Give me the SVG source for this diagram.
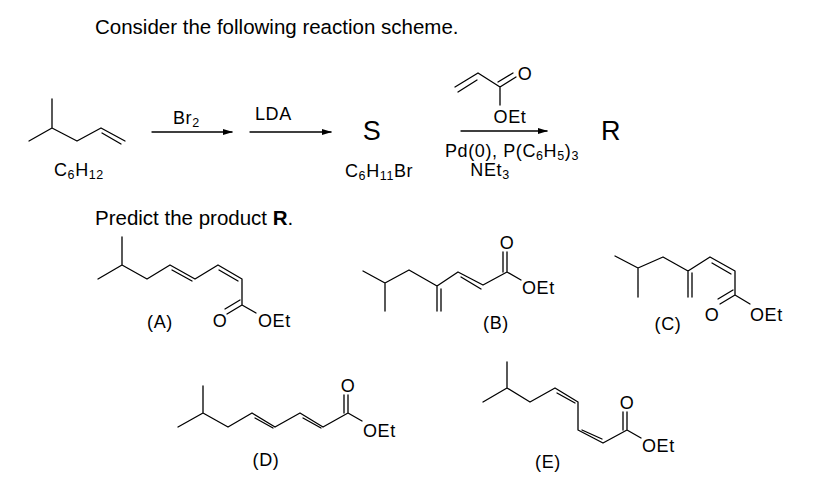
<svg xmlns="http://www.w3.org/2000/svg" width="838" height="480" viewBox="0 0 838 480">
<defs>
<marker id="ah" markerWidth="10" markerHeight="8" refX="9" refY="4" orient="auto" markerUnits="userSpaceOnUse"><path d="M0,1 L10,4 L0,7 Z" fill="#000"/></marker>
<style>
.b{fill:none;stroke:#000;stroke-width:1.3;stroke-linejoin:round;stroke-linecap:round}
text{font-family:"Liberation Sans",Arial,sans-serif;font-size:18px;letter-spacing:0.6px;fill:#000}
.s{font-size:12.5px}
.big{font-size:27px}
.t{font-size:20.5px;letter-spacing:0}
</style>
</defs>
<rect width="838" height="480" fill="#fff"/>
<text class="t" x="95" y="34">Consider the following reaction scheme.</text>
<text class="t" x="95" y="225">Predict the product <tspan font-weight="bold">R</tspan>.</text>

<g id="sm">
<path class="b" d="M52,99 L52,128 M29,141 L52,128 L77,141 L101,128 L125,141 M102,133 L121,144"/>
<text x="54" y="176">C<tspan class="s" dy="3">6</tspan><tspan dy="-3">H</tspan><tspan class="s" dy="3">12</tspan></text>
</g>
<g id="connectors">
<line class="b" x1="152" y1="132" x2="232" y2="132" marker-end="url(#ah)"/>
<line class="b" x1="250" y1="132" x2="331" y2="132" marker-end="url(#ah)"/>
<line class="b" x1="461" y1="131" x2="547" y2="131" marker-end="url(#ah)"/>
</g>
<text x="173" y="124">Br<tspan class="s" dy="3">2</tspan></text>
<text x="255" y="120">LDA</text>
<g id="S">
<text class="big" x="372" y="140" text-anchor="middle">S</text>
<text x="345" y="177">C<tspan class="s" dy="3">6</tspan><tspan dy="-3">H</tspan><tspan class="s" dy="3">11</tspan><tspan dy="-3">Br</tspan></text>
</g>
<g id="acrylate">
<path class="b" d="M455,87 L478,73 L500,87 L516,77 M458,92 L477,80 M498,82 L513,73 M500,87 L500,105"/>
<text x="525" y="80" text-anchor="middle">O</text>
<text x="510" y="123" text-anchor="middle">OEt</text>
</g>
<text x="445" y="157">Pd(0), P(C<tspan class="s" dy="3">6</tspan><tspan dy="-3">H</tspan><tspan class="s" dy="3">5</tspan><tspan dy="-3">)</tspan><tspan class="s" dy="3">3</tspan></text>
<text x="490" y="176" text-anchor="middle">NEt<tspan class="s" dy="3">3</tspan></text>
<text class="big" x="611" y="140" text-anchor="middle">R</text>

<g id="A">
<path class="b" d="M122,237 L122,265 M98,279 L122,265 L147,279 L170,265 L195,279 L218,265 L242,279 L242,305 L227,314 M172,270 L192,281 M219,270 L238,281 M240,300 L225,309 M242,305 L256,313"/>
<text x="220" y="327" text-anchor="middle">O</text>
<text x="258" y="327">OEt</text>
<text x="160" y="328" text-anchor="middle">(A)</text>
</g>
<g id="B">
<path class="b" d="M363,271 L385,283 L385,311 M385,283 L409,270 L437,286 L437,311 M441,289 L441,311 M437,286 L458,272 L483,285 L507,272 L507,252 M503,272 L503,252 M461,277 L481,289 M507,272 L521,280"/>
<text x="507" y="249" text-anchor="middle">O</text>
<text x="522" y="294">OEt</text>
<text x="496" y="329" text-anchor="middle">(B)</text>
</g>
<g id="C">
<path class="b" d="M615,256 L638,268 L638,297 M638,268 L663,257 L688,271 L688,297 M692,273 L692,297 M688,271 L710,257 L735,271 L735,295 L720,304 M712,263 L731,274 M733,290 L718,299 M735,295 L750,304"/>
<text x="712" y="321" text-anchor="middle">O</text>
<text x="750" y="321">OEt</text>
<text x="668" y="330" text-anchor="middle">(C)</text>
</g>
<g id="D">
<path class="b" d="M178,427 L203,413 L203,386 M203,413 L228,427 L252,413 L275,427 L300,413 L323,427 L348,413 L348,395 M344,413 L344,395 M255,418 L273,428 M303,418 L321,428 M348,413 L362,421"/>
<text x="348" y="392" text-anchor="middle">O</text>
<text x="363" y="437">OEt</text>
<text x="266" y="466" text-anchor="middle">(D)</text>
</g>
<g id="E">
<path class="b" d="M507,362 L507,388 M483,402 L507,388 L530,402 L555,388 L578,402 L578,430 L603,443 L627,430 L627,412 M623,430 L623,412 M557,393 L575,403 M582,430 L602,439 M627,430 L641,438"/>
<text x="627" y="409" text-anchor="middle">O</text>
<text x="642" y="452">OEt</text>
<text x="548" y="468" text-anchor="middle">(E)</text>
</g>
</svg>
